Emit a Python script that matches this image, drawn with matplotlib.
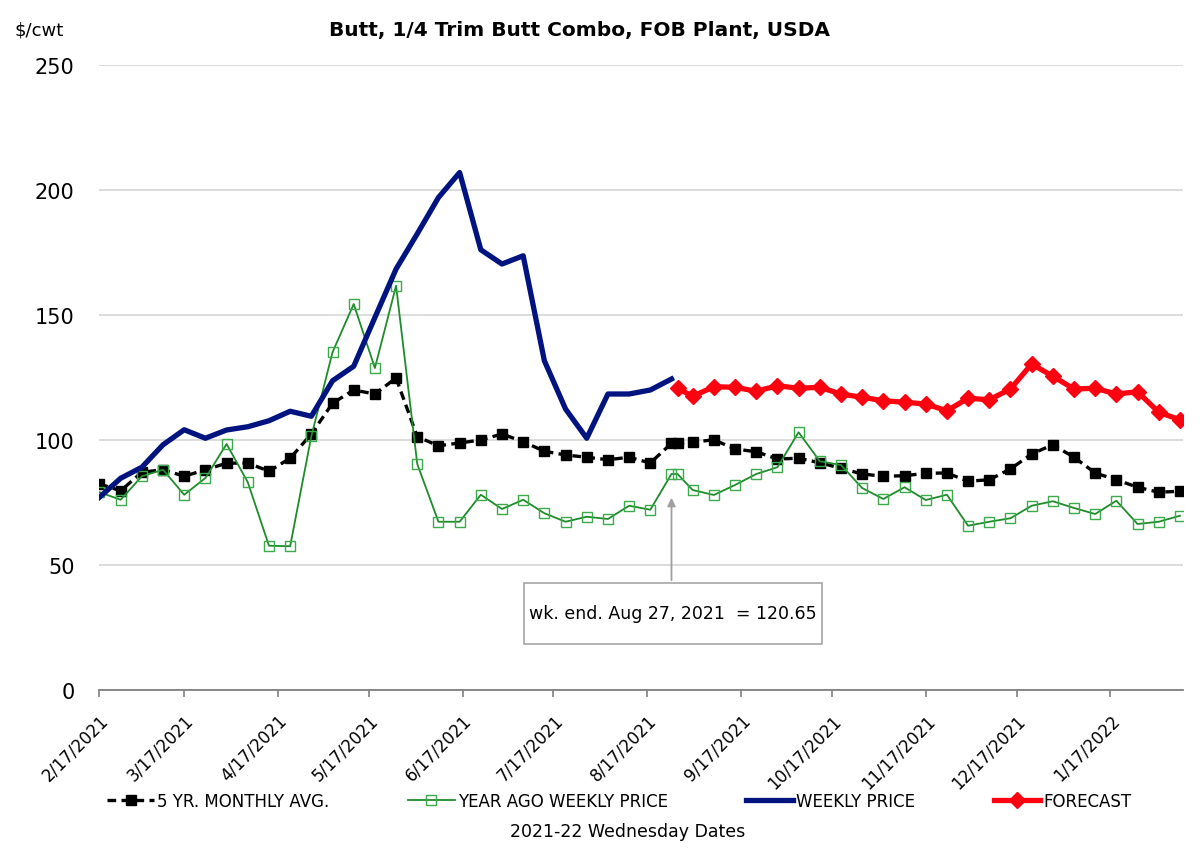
import numpy as np
import pandas as pd
import matplotlib
matplotlib.use("Agg")
import matplotlib.pyplot as plt
from matplotlib.patches import Rectangle

plt.rcParams["font.family"] = ["DejaVu Sans"]

# Wednesday dates, plus the Friday 8/27 where the forecast starts
dates = (list(pd.date_range("2021-02-17", "2021-08-25", freq="7D"))
         + [pd.Timestamp("2021-08-27")]
         + list(pd.date_range("2021-09-01", "2022-02-09", freq="7D")))

five_yr_avg = [82.4, 79.7, 87.1, 88.1, 85.5, 88.1, 90.7, 90.8, 87.5, 92.7,
               102.4, 114.7, 120.0, 118.4, 124.8, 101.3, 97.7, 98.8, 100.0, 102.4,
               99.3, 95.5, 94.0, 93.1, 92.1, 93.1, 90.8, 98.7,
               98.7,
               99.1, 100.1, 96.4, 95.3, 92.4, 92.7, 90.9, 88.7, 86.4, 85.5,
               85.7, 86.7, 86.8, 83.5, 84.1, 88.4, 94.4, 98.1, 93.1, 86.8,
               84.1, 81.1, 79.1, 79.5]

year_ago = [79.1, 76.1, 85.5, 88.1, 78.1, 84.8, 98.4, 83.1, 57.7, 57.5,
            101.5, 135.1, 154.4, 128.8, 161.7, 90.4, 67.3, 67.3, 78.1, 72.4,
            76.1, 70.7, 67.3, 69.3, 68.4, 73.7, 72.1, 86.4,
            86.4,
            80.0, 78.0, 82.0, 86.4, 89.1, 103.1, 91.5, 90.0, 80.8, 76.4,
            81.1, 76.0, 78.1, 65.7, 67.3, 68.7, 73.7, 75.5, 72.8, 70.4,
            75.7, 66.4, 67.3, 69.7]

weekly_price = [77.1, 84.7, 89.1, 98.1, 104.1, 100.7, 104.0, 105.3, 107.7, 111.5,
                109.5, 123.7, 129.5, 149.0, 168.4, 182.5, 197.0, 207.0, 176.1, 170.4,
                173.7, 131.7, 112.4, 100.7, 118.4, 118.4, 120.0, 124.4]

forecast = [120.65, 117.5, 121.3, 121.1, 119.5, 121.7, 120.7, 121.1, 118.4,
            117.1, 115.7, 115.1, 114.4, 111.7, 116.7, 116.1, 120.4, 130.4,
            125.5, 120.4, 120.7, 118.4, 119.3, 111.1, 108.1]

tick_labels = ["2/17/2021", "3/17/2021", "4/17/2021", "5/17/2021", "6/17/2021",
               "7/17/2021", "8/17/2021", "9/17/2021", "10/17/2021", "11/17/2021",
               "12/17/2021", "1/17/2022"]

fig = plt.figure(figsize=(12, 8.62), dpi=100)
ax = fig.add_axes([0.0829, 0.1984, 0.9029, 0.725])

ax.plot(dates, five_yr_avg, color="black", lw=2.4, ls=(0, (2.6, 1.6)),
        marker="s", ms=7, label="5 YR. MONTHLY AVG.")
ax.plot(dates, year_ago, color="#1e8c2a", lw=1.3, marker="s", ms=7,
        mfc="none", mec="#3aaa4a", mew=1.0, label="YEAR AGO WEEKLY PRICE")
ax.plot(dates[:len(weekly_price)], weekly_price, color="#00137f", lw=3.8,
        label="WEEKLY PRICE")
ax.plot(dates[len(weekly_price):], forecast, color="#ff0010", lw=3.8,
        marker="D", ms=8, label="FORECAST")

ax.set_ylim(0, 250)
ax.set_yticks(np.arange(0, 251, 50))
ax.set_xlim(pd.Timestamp("2021-02-17"), pd.Timestamp("2022-02-10"))
tick_dates = [pd.to_datetime(t, format="%m/%d/%Y") for t in tick_labels]
ax.set_xticks(tick_dates)
ax.set_xticklabels(tick_labels, rotation=45, ha="right", rotation_mode="anchor",
                   fontsize=12)
ax.tick_params(axis="x", length=5, color="#808080", width=1.2, pad=10)
ax.tick_params(axis="y", length=0, labelsize=15, pad=18)

ax.grid(axis="y", color="#d9d9d9", lw=1.3)
ax.set_axisbelow(True)
for s in ["top", "right", "left"]:
    ax.spines[s].set_visible(False)
ax.spines["bottom"].set_color("#808080")
ax.spines["bottom"].set_linewidth(1.3)

# annotation box with arrow
last_wk = dates[len(weekly_price) - 1]
ax.annotate("", xy=(last_wk, 78), xytext=(last_wk, 42.8),
            arrowprops=dict(arrowstyle="-|>", color="#a0a0a0", lw=1.3, mutation_scale=12))
ax.add_patch(Rectangle((0.3918, 0.0736), 0.275, 0.0976, transform=ax.transAxes,
                       facecolor="white", edgecolor="#a6a6a6", lw=1.2, zorder=5))
ax.text(0.5293, 0.1224, "wk. end. Aug 27, 2021  = 120.65", transform=ax.transAxes,
        ha="center", va="center", fontsize=12.5, zorder=6)

fig.text(0.4833, 0.965, "Butt, 1/4 Trim Butt Combo, FOB Plant, USDA",
         ha="center", va="center", fontsize=14.5, fontweight="bold")
fig.text(0.012, 0.965, "$/cwt", ha="left", va="center", fontsize=13)
fig.text(0.523, 0.035, "2021-22 Wednesday Dates", ha="center", va="center", fontsize=12.5)

fig.legend(loc="center left", bbox_to_anchor=(0.077, 0.07), ncol=4, frameon=False,
           fontsize=12, handlelength=2.8, handletextpad=0.2, columnspacing=4.7)

fig.savefig("out.png", dpi=100)
